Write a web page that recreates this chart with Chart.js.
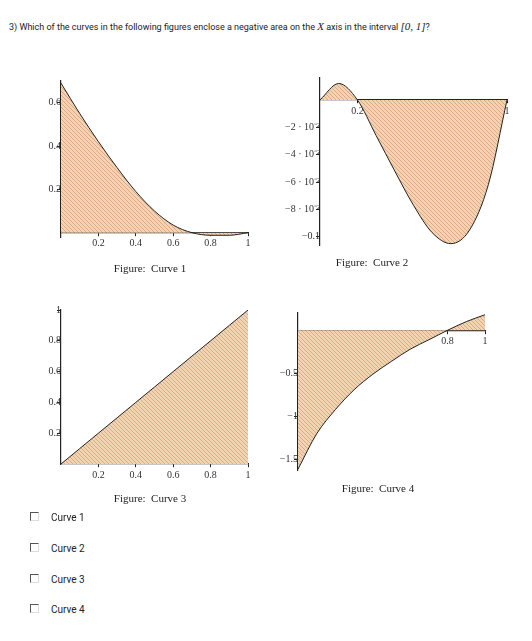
<!DOCTYPE html>
<html>
<head>
<meta charset="utf-8">
<script src="https://cdn.jsdelivr.net/npm/chart.js@4"></script>
<style>
  body { margin: 0; background: #fff; width: 532px; height: 641px; position: relative; overflow: hidden; }
  .q { position: absolute; left: 9px; top: 20px; font: 9px Roboto, sans-serif; color: #222; }
  .q i { font-family: "Liberation Serif", serif; font-size: 11px; }
  canvas { position: absolute; }
  .cap { position: absolute; font: 11px "Liberation Serif", serif; color: #222; transform: translateX(-50%); white-space: nowrap; }
  .opt { position: absolute; left: 30px; font: 10px Roboto, sans-serif; color: #222; }
  .opt span.box { display: inline-block; width: 7px; height: 7px; border-left: 1.5px solid #555; border-top: 1.5px solid #555; border-right: 1px solid #ddd; border-bottom: 1px solid #ddd; vertical-align: top; margin-right: 12px; }
</style>
</head>
<body>
<div class="q">3) Which of the curves in the following figures enclose a negative area on the <i>X</i> axis in the interval <i>[0, 1]</i>?</div>

<canvas id="c1"></canvas>
<canvas id="c2"></canvas>
<canvas id="c3"></canvas>
<canvas id="c4"></canvas>

<div class="cap" style="left:150px;top:262px">Figure:&nbsp; Curve 1</div>
<div class="cap" style="left:372px;top:256px">Figure:&nbsp; Curve 2</div>
<div class="cap" style="left:150px;top:492px">Figure:&nbsp; Curve 3</div>
<div class="cap" style="left:378px;top:482px">Figure:&nbsp; Curve 4</div>

<div class="opt" style="top:512px"><span class="box"></span>Curve 1</div>
<div class="opt" style="top:543px"><span class="box"></span>Curve 2</div>
<div class="opt" style="top:574px"><span class="box"></span>Curve 3</div>
<div class="opt" style="top:604px"><span class="box"></span>Curve 4</div>

<script>
const xValues = [0, 0.1, 0.2, 0.3, 0.4, 0.5, 0.6, 0.7, 0.8, 0.9, 1.0];
const curve1 = [0.69, 0.55, 0.42, 0.30, 0.19, 0.10, 0.035, 0, -0.012, -0.012, 0];
const curve2 = [0, 0.012, 0, -0.026, -0.052, -0.077, -0.097, -0.105, -0.095, -0.062, 0];
const curve3 = [0, 0.1, 0.2, 0.3, 0.4, 0.5, 0.6, 0.7, 0.8, 0.9, 1.0];
const curve4 = [-1.61, -1.20, -0.92, -0.69, -0.51, -0.36, -0.22, -0.11, 0, 0.10, 0.18];

const xTicks = [0.2, 0.4, 0.6, 0.8, 1];
const yTicks1 = [0.2, 0.4, 0.6];
const yTicks2 = [-0.02, -0.04, -0.06, -0.08, -0.1];
const yLabels2 = ['−2 · 10⁻²', '−4 · 10⁻²', '−6 · 10⁻²', '−8 · 10⁻²', '−0.1'];
const yTicks3 = [0.2, 0.4, 0.6, 0.8, 1];
const yTicks4 = [-0.5, -1, -1.5];
const yLabels4 = ['−0.5', '−1', '−1.5'];

function hatch() {
    const p = document.createElement('canvas');
    p.width = 4; p.height = 4;
    const g = p.getContext('2d');
    g.fillStyle = 'rgb(242,212,180)';
    g.fillRect(0, 0, 4, 4);
    g.strokeStyle = 'rgb(214,160,112)';
    g.lineWidth = 0.8;
    g.beginPath();
    g.moveTo(0, 0); g.lineTo(4, 4);
    g.moveTo(-2, 2); g.lineTo(2, 6);
    g.moveTo(2, -2); g.lineTo(6, 2);
    g.stroke();
    return g.createPattern(p, 'repeat');
}

const font = { family: 'Liberation Serif, serif', size: 10 };

function makeChart(id, ys, cfg) {
    const padL = 60, padR = 20, padT = 10, padB = 40;
    const canvas = document.getElementById(id);
    const left = cfg.x0 - padL, top = cfg.yTop - padT;
    const w = cfg.x1 - left + padR, h = cfg.yBot - top + padB;
    canvas.width = w; canvas.height = h;
    canvas.style.left = left + 'px';
    canvas.style.top = top + 'px';
    const ctx = canvas.getContext('2d');
    const axisGrid = { drawOnChartArea: false, drawTicks: true, tickLength: 3, color: '#222' };
    new Chart(ctx, {
        type: 'scatter',
        data: {
            datasets: [{
                data: xValues.map((x, i) => ({ x: x, y: ys[i] })),
                showLine: true,
                tension: 0.4,
                cubicInterpolationMode: 'monotone',
                borderColor: '#222',
                borderWidth: 1,
                pointRadius: 0,
                fill: 'origin',
                backgroundColor: hatch(),
            }]
        },
        options: {
            responsive: false,
            animation: false,
            layout: { padding: { left: padL, right: padR, top: padT, bottom: padB } },
            plugins: { legend: { display: false }, tooltip: { enabled: false } },
            scales: {
                x: {
                    type: 'linear', min: 0, max: 1,
                    position: { y: 0 },
                    afterBuildTicks: s => { s.ticks = xTicks.map(v => ({ value: v })); },
                    ticks: { font: font, color: '#333', padding: 2, callback: v => String(v) },
                    grid: axisGrid,
                    border: { color: '#222', width: 1.2 },
                },
                y: {
                    type: 'linear', min: cfg.ymin, max: cfg.ymax,
                    position: { x: 0 },
                    afterBuildTicks: s => { s.ticks = cfg.yTicks.map(v => ({ value: v })); },
                    ticks: {
                        font: font, color: '#333', padding: 3,
                        callback: v => cfg.yLabels ? cfg.yLabels[cfg.yTicks.indexOf(v)] : String(v)
                    },
                    grid: axisGrid,
                    border: { color: '#222', width: 1.2 },
                }
            }
        }
    });
}

makeChart('c1', curve1, { x0: 61, x1: 248, ymin: -0.02, ymax: 0.7, yTop: 81, yBot: 237, yTicks: yTicks1 });
makeChart('c2', curve2, { x0: 320, x1: 507, ymin: -0.106, ymax: 0.016, yTop: 78, yBot: 245, yTicks: yTicks2, yLabels: yLabels2 });
makeChart('c3', curve3, { x0: 61, x1: 248, ymin: 0, ymax: 1, yTop: 310, yBot: 464, yTicks: yTicks3 });
makeChart('c4', curve4, { x0: 298, x1: 485, ymin: -1.62, ymax: 0.2, yTop: 313, yBot: 470, yTicks: yTicks4, yLabels: yLabels4 });
</script>
</body>
</html>
